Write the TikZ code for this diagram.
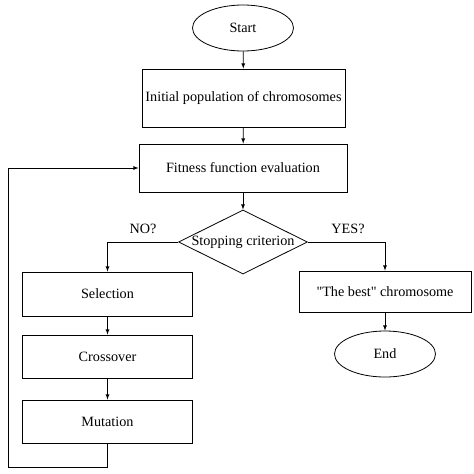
\documentclass[tikz,border=0pt]{standalone}
\usepackage{fontspec}
\setmainfont{Liberation Serif}[Ligatures=TeXOff]
\usepackage{tikz}
\usetikzlibrary{arrows}
\usetikzlibrary{shapes.geometric}

\begin{document}
\begin{tikzpicture}[x=1pt, y=-1pt, line width=0.8pt, >=latex,
        every node/.style={font=\fontsize{14.2}{16}\selectfont},
        box/.style={draw, rectangle, minimum height=44pt, inner sep=0pt},
        term/.style={draw, ellipse, minimum width=101pt, minimum height=46pt, inner sep=0pt},
        test/.style={draw, diamond, shape aspect=2, inner sep=0pt, minimum width=129pt, minimum height=64pt}]
        \useasboundingbox (0,0) rectangle (474,474);

        \node [term] (start) at (243,28) {Start};
        \node [box, minimum width=203pt, minimum height=58pt] (init) at (243.5,98) {Initial population of chromosomes};
        \node [box, minimum width=208pt, minimum height=48pt] (fit) at (243,168) {Fitness function evaluation};
        \node [test] (stop) at (243,242) {Stopping criterion};

        \node [box, minimum width=170pt] (sel) at (107.5,294) {Selection};
        \node [box, minimum width=170pt, minimum height=43pt] (cross) at (107.5,356.5) {Crossover};
        \node [box, minimum width=170pt, minimum height=43pt] (mut) at (107.5,421.5) {Mutation};

        \node [box, minimum width=172pt, minimum height=41pt] (best) at (385,291.5) {"The best" chromosome};
        \node [term] (end) at (385,354) {End};

        \node (no) at (143,229) {NO?};
        \node (yes) at (348,229) {YES?};
        \coordinate (loop) at (8,467);

        \draw [->] (start) -- (init);
        \draw [->] (init) -- (fit);
        \draw [->] (fit) -- (stop);
        \draw [->] (stop.west) -| (sel.north);
        \draw [->] (stop.east) -| (best.north);
        \draw [->] (sel) -- (cross);
        \draw [->] (cross) -- (mut);
        \draw [->] (best) -- (end);
        \draw [->] (mut.south) |- (loop) |- (fit.west);
\end{tikzpicture}
\end{document}
